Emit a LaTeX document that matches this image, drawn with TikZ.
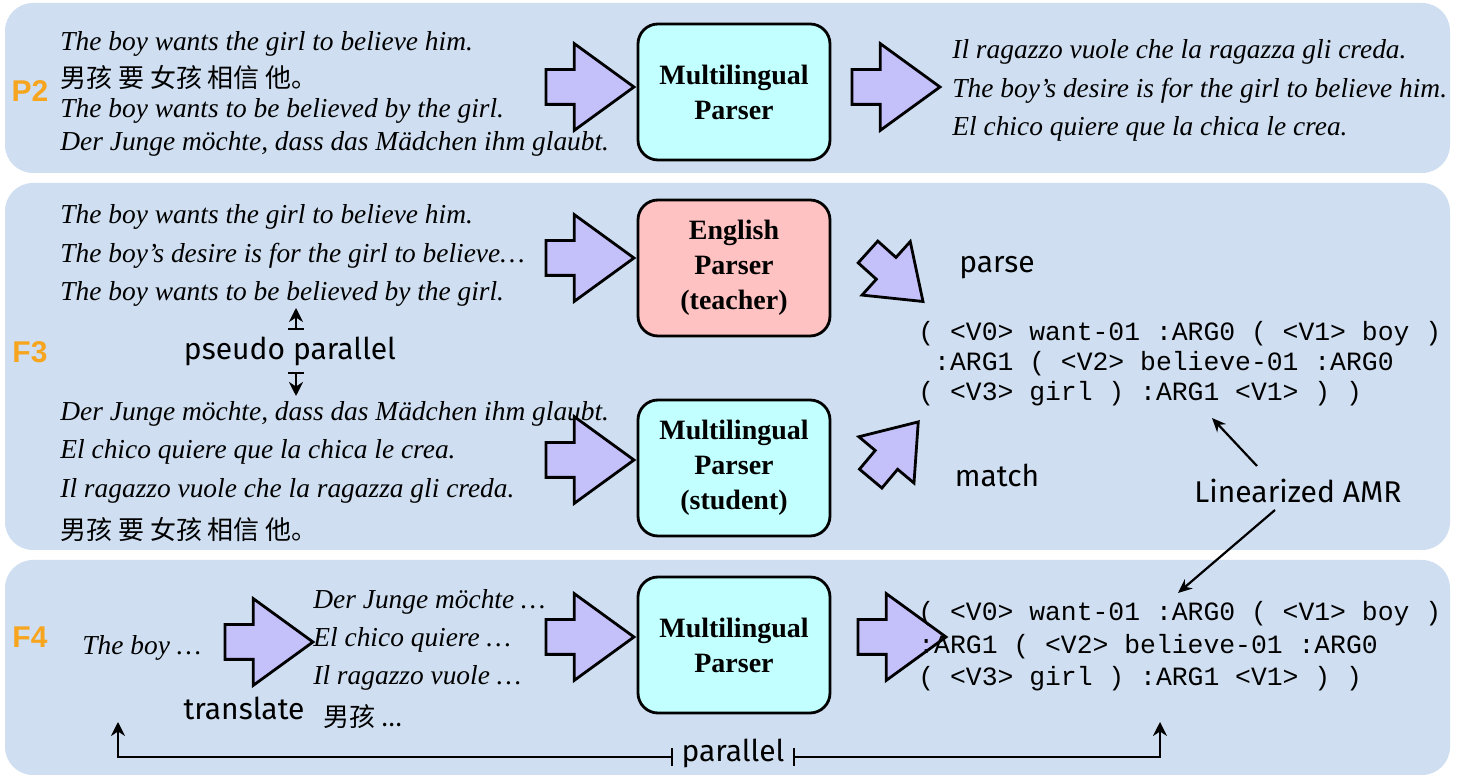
\documentclass[tikz,border=0pt]{standalone}
\usepackage{fontspec}
\setmainfont{Liberation Serif}
\setmonofont{Liberation Mono}
\newfontfamily\cjk{Noto Sans CJK SC}
\newfontfamily\lblfont{Fira Sans}
\newfontfamily\tagfont{Liberation Sans}
\usetikzlibrary{shapes.arrows,arrows.meta}
\definecolor{panelbg}{HTML}{CFDFF1}
\definecolor{arrowfill}{HTML}{C4C0FA}
\definecolor{cyanbox}{HTML}{C2FFFF}
\definecolor{pinkbox}{HTML}{FFC2C2}
\definecolor{tagorange}{HTML}{F7A51E}
\tikzset{
  panel/.style={fill=panelbg,draw=none,rounded corners=14pt},
  barrow/.style={single arrow,draw=black,line width=1.4pt,fill=arrowfill,minimum height=88*0.5pt,minimum width=86*0.5pt,single arrow head extend=26*0.5pt,single arrow tip angle=72,inner sep=8pt,line join=miter},
  sarrow/.style={barrow,minimum height=74*0.5pt,minimum width=72*0.5pt,single arrow head extend=21*0.5pt,inner sep=6.5pt},
  parser/.style={draw=black,line width=1.4pt,rounded corners=10pt,minimum width=192*0.5pt,minimum height=136*0.5pt,align=center,font=\fontsize{14}{17.5}\selectfont\bfseries},
  sent/.style={anchor=west,font=\fontsize{13.7}{15}\selectfont\itshape,inner sep=0pt},
  cjks/.style={anchor=west,font=\fontsize{13}{15}\selectfont\cjk,inner sep=0pt},
  amr/.style={anchor=west,font=\fontsize{13.2}{15}\selectfont\ttfamily,inner sep=0pt},
  tag/.style={font=\fontsize{15}{17}\selectfont\tagfont\bfseries,text=tagorange,inner sep=0pt},
  lbl/.style={font=\fontsize{15}{17}\selectfont\lblfont,inner sep=1pt},
  conn/.style={line width=1.1pt,-{Stealth[length=7pt,width=6pt]}},
}
\begin{document}
\begin{tikzpicture}[x=0.5pt,y=-0.5pt]
\fill[white] (0,0) rectangle (1458,779);
\useasboundingbox (0,0) rectangle (1458,779);
% panels
\path[panel] (5,3) rectangle (1450,173);
\path[panel] (5,183) rectangle (1450,550);
\path[panel] (5,560) rectangle (1450,775);
% tags
\node[tag] (p2) at (30,91) {P2};
\node[tag] (f3) at (30,352) {F3};
\node[tag] (f4) at (30,637) {F4};
% P2
\node[sent] (a1) at (60,44) {The boy wants the girl to believe him.};
\node[cjks] (a2) at (60,78) {男孩 要 女孩 相信 他。};
\node[sent] (a3) at (60,111) {The boy wants to be believed by the girl.};
\node[sent] (a4) at (60,144) {Der Junge möchte, dass das Mädchen ihm glaubt.};
\node[barrow] (ar1) at (578,87) {};
\node[parser,fill=cyanbox] (mp1) at (734,92) {Multilingual\\Parser};
\node[barrow] (ar2) at (884,87) {};
\node[sent] (b1) at (952,52) {Il ragazzo vuole che la ragazza gli creda.};
\node[sent] (b2) at (952,91) {The boy’s desire is for the girl to believe him.};
\node[sent] (b3) at (952,129) {El chico quiere que la chica le crea.};
% F3
\node[sent] (c1) at (60,217) {The boy wants the girl to believe him.};
\node[sent] (c2) at (60,256) {The boy’s desire is for the girl to believe\dots};
\node[sent] (c3) at (60,294) {The boy wants to be believed by the girl.};
\node[lbl] (pp) at (290,351) {pseudo parallel};
\coordinate (ppu) at (296,308);
\coordinate (ppd) at (296,396);
\draw[conn,{Bar[width=8pt]}-{Stealth[length=7pt,width=7pt]}] (pp.north -| ppu) ++(0,-4) -- (ppu);
\draw[conn,{Bar[width=8pt]}-{Stealth[length=7pt,width=7pt]}] (pp.south -| ppd) ++(0,4) -- (ppd);
\node[sent] (d1) at (60,414) {Der Junge möchte, dass das Mädchen ihm glaubt.};
\node[sent] (d2) at (60,452) {El chico quiere que la chica le crea.};
\node[sent] (d3) at (60,491) {Il ragazzo vuole che la ragazza gli creda.};
\node[cjks] (d4) at (60,530) {男孩 要 女孩 相信 他。};
\node[barrow] (ar3) at (578,258) {};
\node[barrow] (ar4) at (578,460) {};
\node[parser,fill=pinkbox] (ep) at (734,268) {English\\Parser\\(teacher)};
\node[parser,fill=cyanbox] (mp2) at (734,468) {Multilingual\\Parser\\(student)};
\node[sarrow,rotate=-42] (parsear) at (888,270) {};
\node[sarrow,rotate=50] (matchar) at (888,458) {};
\node[lbl] (parse) at (997,268) {parse};
\node[lbl] (match) at (997,475) {match};
\node[amr] (e1) at (918,334) {( <V0> want-01 :ARG0 ( <V1> boy )};
\node[amr] (e2) at (918,364) {\ :ARG1 ( <V2> believe-01 :ARG0};
\node[amr] (e3) at (918,394) {( <V3> girl ) :ARG1 <V1> ) )};
\node[lbl] (lin) at (1298,491) {Linearized AMR};
\coordinate (lt1) at (1212,418);
\coordinate (lt2) at (1178,593);
\coordinate (ls1) at (1257,466);
\coordinate (ls2) at (1275,510);
\draw[conn] (ls1) -- (lt1);
\draw[conn] (ls2) -- (lt2);
% F4
\node[sent] (g0) at (82,648) {The boy \dots};
\node[barrow] (ar5) at (257,642) {};
\node[lbl] (tr) at (244,708) {translate};
\node[sent] (g1) at (313,602) {Der Junge möchte \dots};
\node[sent] (g2) at (313,640) {El chico quiere \dots};
\node[sent] (g3) at (313,678) {Il ragazzo vuole \dots};
\node[cjks] (g4) at (323,717) {男孩 ...};
\node[barrow] (ar6) at (578,637) {};
\node[parser,fill=cyanbox] (mp3) at (734,645) {Multilingual\\Parser};
\node[barrow] (ar7) at (890,637) {};
\node[amr] (h1) at (918,614) {( <V0> want-01 :ARG0 ( <V1> boy )};
\node[amr] (h2) at (918,647) {:ARG1 ( <V2> believe-01 :ARG0};
\node[amr] (h3) at (918,679) {( <V3> girl ) :ARG1 <V1> ) )};
\node[lbl] (par) at (733,753) {parallel};
\coordinate (pl) at (118,722);
\coordinate (pr) at (1160,722);
\draw[conn,{Bar[width=9pt]}-{Stealth[length=7pt,width=7pt]}] ([xshift=-3pt]par.west |- 0,757) -| (pl);
\draw[conn,{Bar[width=9pt]}-{Stealth[length=7pt,width=7pt]}] ([xshift=3pt]par.east |- 0,757) -| (pr);
\end{tikzpicture}
\end{document}
